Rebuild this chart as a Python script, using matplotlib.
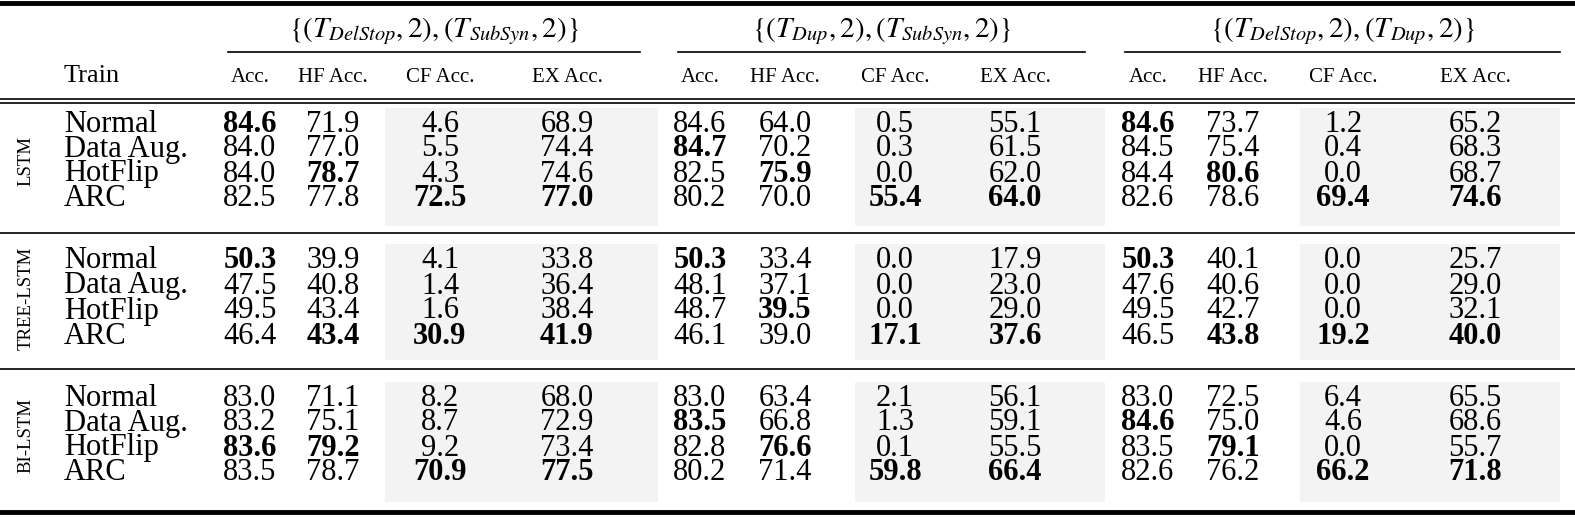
import matplotlib.pyplot as plt
from matplotlib.patches import Rectangle

plt.rcParams['mathtext.fontset'] = 'stix'
serif = ['Liberation Serif', 'DejaVu Serif']

groups = [r'$\{(T_{\mathit{DelStop}},2),(T_{\mathit{SubSyn}},2)\}$',
          r'$\{(T_{\mathit{Dup}},2),(T_{\mathit{SubSyn}},2)\}$',
          r'$\{(T_{\mathit{DelStop}},2),(T_{\mathit{Dup}},2)\}$']
metrics = ['Acc.', 'HF Acc.', 'CF Acc.', 'EX Acc.']
models = ['LSTM', 'TREE-LSTM', 'BI-LSTM']
methods = ['Normal', 'Data Aug.', 'HotFlip', 'ARC']

lstm = [
    [84.6, 71.9, 4.6, 68.9, 84.6, 64.0, 0.5, 55.1, 84.6, 73.7, 1.2, 65.2],
    [84.0, 77.0, 5.5, 74.4, 84.7, 70.2, 0.3, 61.5, 84.5, 75.4, 0.4, 68.3],
    [84.0, 78.7, 4.3, 74.6, 82.5, 75.9, 0.0, 62.0, 84.4, 80.6, 0.0, 68.7],
    [82.5, 77.8, 72.5, 77.0, 80.2, 70.0, 55.4, 64.0, 82.6, 78.6, 69.4, 74.6],
]
tree_lstm = [
    [50.3, 39.9, 4.1, 33.8, 50.3, 33.4, 0.0, 17.9, 50.3, 40.1, 0.0, 25.7],
    [47.5, 40.8, 1.4, 36.4, 48.1, 37.1, 0.0, 23.0, 47.6, 40.6, 0.0, 29.0],
    [49.5, 43.4, 1.6, 38.4, 48.7, 39.5, 0.0, 29.0, 49.5, 42.7, 0.0, 32.1],
    [46.4, 43.4, 30.9, 41.9, 46.1, 39.0, 17.1, 37.6, 46.5, 43.8, 19.2, 40.0],
]
bi_lstm = [
    [83.0, 71.1, 8.2, 68.0, 83.0, 63.4, 2.1, 56.1, 83.0, 72.5, 6.4, 65.5],
    [83.2, 75.1, 8.7, 72.9, 83.5, 66.8, 1.3, 59.1, 84.6, 75.0, 4.6, 68.6],
    [83.6, 79.2, 9.2, 73.4, 82.8, 76.6, 0.1, 55.5, 83.5, 79.1, 0.0, 55.7],
    [83.5, 78.7, 70.9, 77.5, 80.2, 71.4, 59.8, 66.4, 82.6, 76.2, 66.2, 71.8],
]
# (row, col) of bold entries per model
bold_lstm = {(0, 0), (2, 1), (3, 2), (3, 3), (1, 4), (2, 5), (3, 6), (3, 7), (0, 8), (2, 9), (3, 10), (3, 11)}
bold_tree = {(0, 0), (3, 1), (3, 2), (3, 3), (0, 4), (2, 5), (3, 6), (3, 7), (0, 8), (3, 9), (3, 10), (3, 11)}
bold_bi = {(2, 0), (2, 1), (3, 2), (3, 3), (1, 4), (2, 5), (3, 6), (3, 7), (1, 8), (2, 9), (3, 10), (3, 11)}

W, H = 1575, 519
fig = plt.figure(figsize=(W / 100, H / 100), dpi=100)
ax = fig.add_axes([0, 0, 1, 1])
ax.set_xlim(0, W)
ax.set_ylim(H, 0)
ax.axis('off')

col_x = [250, 333, 440, 567, 700, 785, 895, 1015, 1148, 1233, 1343, 1475]
grp_span = [(228, 640), (678, 1085), (1125, 1560)]
shade_span = [(385, 658), (855, 1105), (1300, 1560)]
blocks = [(lstm, bold_lstm, 124), (tree_lstm, bold_tree, 261), (bi_lstm, bold_bi, 398)]
block_rng = [(108, 226), (244, 360), (382, 502)]
row_h = 25

fs = 22
for (a, b) in shade_span:
    for (y0, y1) in block_rng:
        ax.add_patch(Rectangle((a, y0), b - a, y1 - y0, color='#f3f3f3', lw=0, zorder=0))

# rules
ax.plot([0, W], [3, 3], color='black', lw=3.5)
for g, (a, b) in zip(groups, grp_span):
    ax.plot([a, b], [52, 52], color='black', lw=1.2)
    ax.text((a + b) / 2, 31, g, ha='center', va='center', fontsize=21)
ax.plot([0, W], [99, 99], color='black', lw=1.2)
ax.plot([0, W], [103, 103], color='black', lw=1.2)
ax.plot([0, W], [233, 233], color='black', lw=1.2)
ax.plot([0, W], [369, 369], color='black', lw=1.2)
ax.plot([0, W], [512, 512], color='black', lw=3.5)

ax.text(64, 76, 'Train', ha='left', va='center', fontsize=19, family=serif)
for i, x in enumerate(col_x):
    ax.text(x, 77, metrics[i % 4], ha='center', va='center', fontsize=15, family=serif)

for m, (data, bold, y0) in zip(models, blocks):
    ax.text(26, y0 + 1.5 * row_h, m, rotation=90, ha='center', va='center', fontsize=13.5, family=serif)
    for r, meth in enumerate(methods):
        y = y0 + r * row_h
        ax.text(64, y, meth, ha='left', va='center', fontsize=fs, family=serif)
        for c, x in enumerate(col_x):
            ax.text(x, y, f'{data[r][c]:.1f}', ha='center', va='center', fontsize=fs, family=serif,
                    weight='bold' if (r, c) in bold else 'normal')

fig.savefig('out.png', dpi=100)
